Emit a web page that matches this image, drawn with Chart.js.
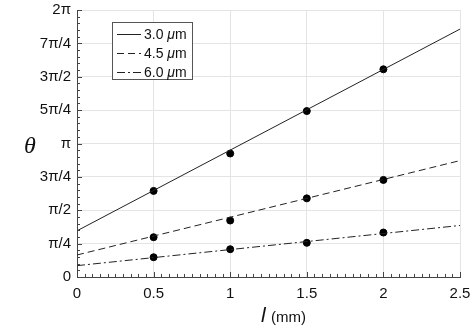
<!DOCTYPE html>
<html>
<head>
<meta charset="utf-8">
<script src="https://cdn.jsdelivr.net/npm/chart.js@4/dist/chart.umd.min.js"></script>
<style>
  html, body { margin: 0; padding: 0; background: #fff; }
  #wrap { width: 474px; height: 334px; }
</style>
</head>
<body>
<div id="wrap"><canvas id="chart" width="474" height="334"></canvas></div>
<script>
// measured points (theta in units of pi)
const lengths = [0.5, 1, 1.5, 2];
const theta30 = [0.645, 0.925, 1.243, 1.556];
const theta45 = [0.298, 0.423, 0.589, 0.727];
const theta60 = [0.148, 0.208, 0.256, 0.333];

// linear fits, drawn across the whole axis
const fitX = [0, 2.5];
const fit30 = [0.346, 1.857];
const fit45 = [0.165, 0.872];
const fit60 = [0.085, 0.386];

const seriesNames = ["3.0 \u03bcm", "4.5 \u03bcm", "6.0 \u03bcm"];
const xTickLabels = ["0", "0.5", "1", "1.5", "2", "2.5"];
const yTickLabels = ["0", "\u03c0/4", "\u03c0/2", "3\u03c0/4", "\u03c0", "5\u03c0/4", "3\u03c0/2", "7\u03c0/4", "2\u03c0"];

const dashes = [[], [7, 4], [8, 3, 2, 3]];
const font = "'Liberation Sans', Arial, sans-serif";

function pts(xs, ys) {
  return xs.map((x, i) => ({ x: x, y: ys[i] }));
}

const fits = [fit30, fit45, fit60];
const meas = [theta30, theta45, theta60];
const datasets = [];
fits.forEach((f, i) => {
  datasets.push({
    label: seriesNames[i],
    data: pts(fitX, f),
    showLine: true,
    borderColor: "#222",
    borderWidth: 1,
    borderDash: dashes[i],
    pointRadius: 0,
  });
});
meas.forEach((m) => {
  datasets.push({
    data: pts(lengths, m),
    showLine: false,
    backgroundColor: "#000",
    borderColor: "#000",
    pointRadius: 3.5,
  });
});

// minor/major inward ticks, axis titles and boxed legend
const decor = {
  id: "decor",
  afterDatasetsDraw(chart) {
    const ctx = chart.ctx;
    const xs = chart.scales.x, ys = chart.scales.y;
    const a = chart.chartArea;
    ctx.save();
    ctx.strokeStyle = "#444";
    ctx.lineWidth = 1;
    ctx.beginPath();
    for (let i = 0; i <= 50; i++) {
      const px = Math.round(xs.getPixelForValue(i * 0.05)) + 0.5;
      const len = i % 10 === 0 ? 5 : 3;
      ctx.moveTo(px, a.bottom);
      ctx.lineTo(px, a.bottom - len);
    }
    for (let i = 0; i <= 40; i++) {
      const py = Math.round(ys.getPixelForValue(i * 0.05)) + 0.5;
      const len = i % 5 === 0 ? 5 : 3;
      ctx.moveTo(a.left, py);
      ctx.lineTo(a.left + len, py);
    }
    ctx.stroke();

    // theta label
    ctx.fillStyle = "#111";
    ctx.font = "italic 24px 'Liberation Serif', 'DejaVu Serif', serif";
    ctx.textAlign = "center";
    ctx.textBaseline = "middle";
    ctx.fillText("\u03b8", 30, 147);

    // x title: italic l + (mm)
    ctx.textAlign = "left";
    ctx.textBaseline = "alphabetic";
    ctx.font = "italic 21px " + font;
    ctx.fillText("l", 261, 322);
    ctx.font = "15px " + font;
    ctx.fillText("(mm)", 271, 322);

    // legend box
    const bx = 112.5, by = 22.5, bw = 80, bh = 57;
    ctx.fillStyle = "#fff";
    ctx.fillRect(bx, by, bw, bh);
    ctx.strokeStyle = "#555";
    ctx.lineWidth = 1;
    ctx.strokeRect(bx, by, bw, bh);
    const rows = [34, 53, 72];
    rows.forEach((ry, i) => {
      ctx.strokeStyle = "#222";
      ctx.setLineDash(dashes[i]);
      ctx.beginPath();
      ctx.moveTo(117, ry + 0.5);
      ctx.lineTo(141, ry + 0.5);
      ctx.stroke();
      ctx.setLineDash([]);
      ctx.fillStyle = "#111";
      ctx.textBaseline = "middle";
      const parts = seriesNames[i].split(" ");
      ctx.font = "14px " + font;
      ctx.fillText(parts[0] + " ", 144, ry + 1);
      const w = ctx.measureText(parts[0] + " ").width;
      ctx.font = "italic 14px " + font;
      ctx.fillText(parts[1][0], 144 + w, ry + 1);
      const w2 = ctx.measureText(parts[1][0]).width;
      ctx.font = "14px " + font;
      ctx.fillText(parts[1].slice(1), 144 + w + w2, ry + 1);
    });
    ctx.restore();
  },
};

new Chart(document.getElementById("chart"), {
  type: "scatter",
  data: { datasets: datasets },
  plugins: [decor],
  options: {
    responsive: false,
    animation: false,
    layout: { padding: { top: 10, right: 14, left: 0, bottom: 0 } },
    plugins: { legend: { display: false }, tooltip: { enabled: false } },
    scales: {
      x: {
        type: "linear",
        min: 0,
        max: 2.5,
        afterFit: (s) => { s.height = 57; s.paddingRight = 0; s.paddingLeft = 0; },
        ticks: {
          stepSize: 0.5,
          padding: 8,
          color: "#111",
          font: { family: font, size: 15 },
          callback: (v) => xTickLabels[Math.round(v * 2)],
        },
        grid: { color: "#e4e4e4", drawTicks: false },
        border: { color: "#444", width: 1 },
      },
      y: {
        min: 0,
        max: 2,
        afterFit: (s) => { s.width = 77; s.paddingTop = 0; s.paddingBottom = 0; },
        ticks: {
          stepSize: 0.25,
          padding: 6,
          color: "#111",
          font: { family: font, size: 15 },
          callback: (v) => yTickLabels[Math.round(v * 4)],
        },
        grid: { color: "#e4e4e4", drawTicks: false },
        border: { color: "#444", width: 1 },
      },
    },
  },
});
</script>
</body>
</html>
